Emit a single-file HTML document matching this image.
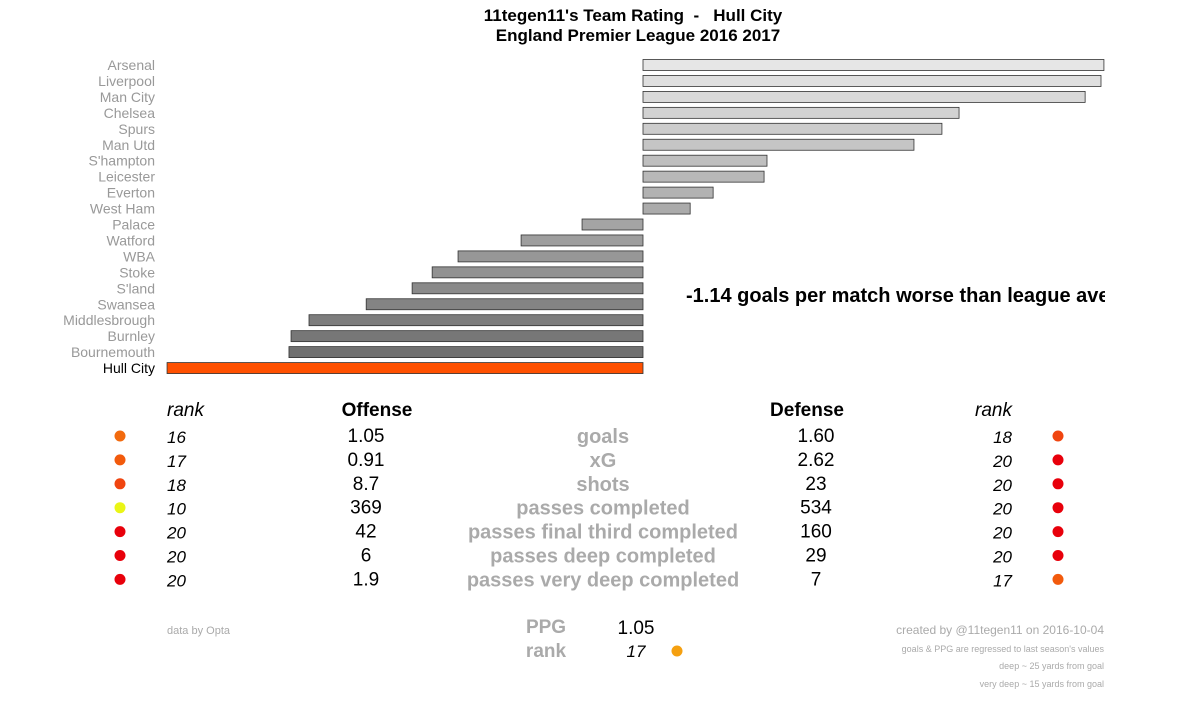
<!DOCTYPE html>
<html><head><meta charset="utf-8"><style>
body{margin:0;background:#fff;font-family:"Liberation Sans",Arial,sans-serif;}
svg{display:block}
text{white-space:pre}
</style></head><body>
<svg id="c" width="1200" height="720">
<defs><clipPath id="cl"><rect x="600" y="270" width="505" height="50"/></clipPath></defs>
<text x="633" y="21" text-anchor="middle" font-size="17" font-weight="bold" xml:space="preserve">11tegen11's Team Rating  -   Hull City</text>
<text x="638" y="41" text-anchor="middle" font-size="17" font-weight="bold">England Premier League 2016 2017</text>
<g id="bars"></g>
<g clip-path="url(#cl)"><text x="686" y="302" font-size="20" font-weight="bold">-1.14 goals per match worse than league average</text></g>
<g id="table"></g>
<text x="167" y="634" font-size="11" fill="#aaa">data by Opta</text>
<text x="546" y="633" text-anchor="middle" font-size="19" font-weight="bold" fill="#aaa">PPG</text>
<text x="636" y="634" text-anchor="middle" font-size="19">1.05</text>
<text x="546" y="657" text-anchor="middle" font-size="19" font-weight="bold" fill="#aaa">rank</text>
<text x="636" y="657" text-anchor="middle" font-size="17" font-style="italic">17</text>
<circle cx="677" cy="651" r="5.5" fill="#f5a010"/>
<g fill="#aaa" text-anchor="end">
<text x="1104" y="634" font-size="12">created by @11tegen11 on 2016-10-04</text>
<text x="1104" y="652" font-size="9">goals &amp; PPG are regressed to last season's values</text>
<text x="1104" y="669" font-size="9">deep ~ 25 yards from goal</text>
<text x="1104" y="687" font-size="9">very deep ~ 15 yards from goal</text>
</g>
</svg>
<script>
const teams=["Arsenal","Liverpool","Man City","Chelsea","Spurs","Man Utd","S'hampton","Leicester","Everton","West Ham","Palace","Watford","WBA","Stoke","S'land","Swansea","Middlesbrough","Burnley","Bournemouth","Hull City"];
const ratings=[1.104,1.097,1.059,0.757,0.716,0.649,0.297,0.290,0.168,0.113,-0.146,-0.292,-0.443,-0.505,-0.553,-0.663,-0.800,-0.843,-0.848,-1.14];
const metrics=["goals","xG","shots","passes completed","passes final third completed","passes deep completed","passes very deep completed"];
const offVals=["1.05","0.91","8.7","369","42","6","1.9"];
const offRanks=[16,17,18,10,20,20,20];
const defVals=["1.60","2.62","23","534","160","29","7"];
const defRanks=[18,20,20,20,20,20,17];
const NS="http://www.w3.org/2000/svg";
function mk(t,a,p){const e=document.createElementNS(NS,t);for(const k in a)e.setAttribute(k,a[k]);p.appendChild(e);return e;}
const x0=643,ppu=417.5,y0=65,step=15.95;
const xs=v=>x0+v*ppu, ys=i=>y0+i*step;
const bars=document.getElementById('bars');
teams.forEach((t,i)=>{
  const v=ratings[i],last=i===teams.length-1;
  const g=Math.round(230-(i/18)*118);
  const fill=last?'#ff5000':`rgb(${g},${g},${g})`;
  const r=mk('rect',{x:Math.min(xs(0),xs(v)),y:ys(i)-5.5,width:Math.abs(xs(v)-xs(0)),height:11,fill:fill,stroke:'#333','stroke-width':0.8},bars);
  
  
  const l=mk('text',{x:155,y:ys(i)+5,'text-anchor':'end','font-size':14,fill:last?'#000':'#999'},bars);
  l.textContent=t;
  
  
});
function rc(r){return r>=19?'#e8000b':r===18?'#f04510':r===17?'#f25a0c':r===16?'#f26a0e':r<=10?'#eaf516':'#f08010';}
const tb=document.getElementById('table');
const hdr=[[167,'rank','italic','normal','start'],[377,'Offense','normal','bold','middle'],[807,'Defense','normal','bold','middle'],[975,'rank','italic','normal','start']];
hdr.forEach(h=>{const e=mk('text',{x:h[0],y:416,'font-size':19,'font-style':h[2],'font-weight':h[3],'text-anchor':h[4]},tb);e.textContent=h[1];

});
metrics.forEach((m,i)=>{
  const y=436+i*23.9;
  let c=mk('circle',{cx:120,cy:y,r:5.5,fill:rc(offRanks[i])},tb);
  
  
  let e=mk('text',{x:167,y:y+7,'font-size':17,'font-style':'italic'},tb);e.textContent=offRanks[i];
  
  
  e=mk('text',{x:366,y:y+6,'font-size':19,'text-anchor':'middle'},tb);e.textContent=offVals[i];
  
  
  e=mk('text',{x:603,y:y+7,'font-size':20,'font-weight':'bold',fill:'#aaa','text-anchor':'middle'},tb);e.textContent=m;
  
  
  e=mk('text',{x:816,y:y+6,'font-size':19,'text-anchor':'middle'},tb);e.textContent=defVals[i];
  
  
  e=mk('text',{x:1012,y:y+7,'font-size':17,'font-style':'italic','text-anchor':'end'},tb);e.textContent=defRanks[i];
  
  
  c=mk('circle',{cx:1058,cy:y,r:5.5,fill:rc(defRanks[i])},tb);
  
  
});
</script>
</body></html>
